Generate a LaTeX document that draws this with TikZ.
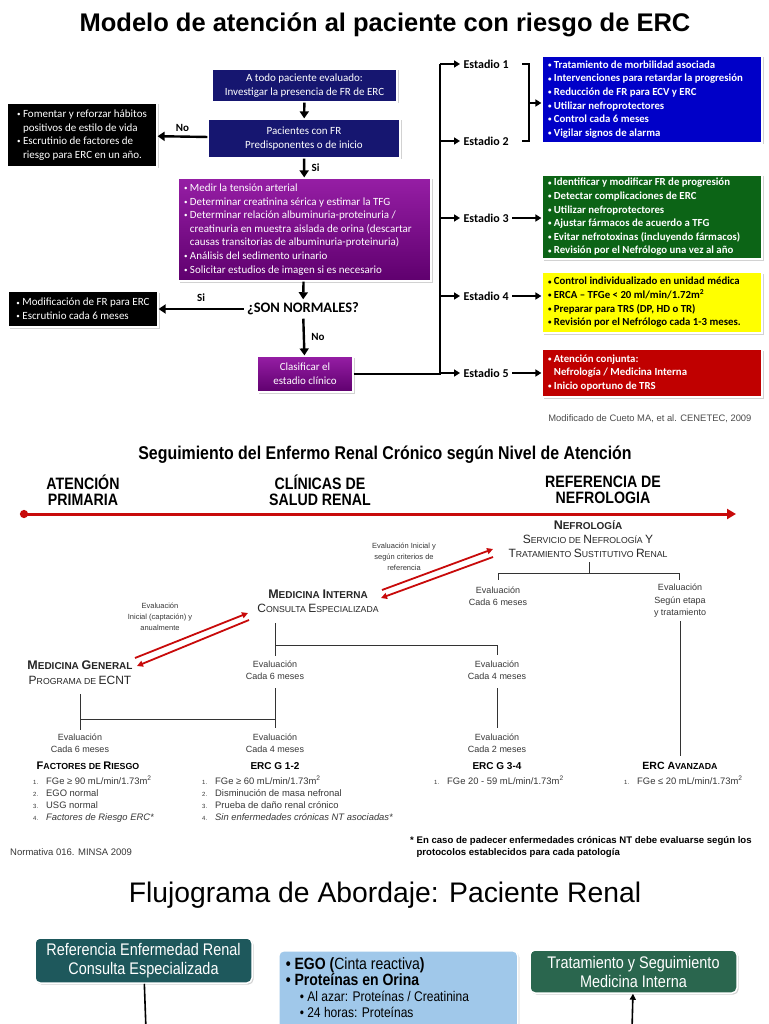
\documentclass[tikz,border=0pt]{standalone}
\usepackage{fontspec}
\setmainfont{Carlito}
\newfontfamily\arialf{Liberation Sans}
\newfontfamily\condf[FakeStretch=0.86]{Liberation Sans}
\usetikzlibrary{arrows.meta,positioning,calc,shadows}
\definecolor{navybox}{RGB}{22,22,112}
\definecolor{purpletop}{RGB}{150,30,165}
\definecolor{purplebot}{RGB}{95,0,110}
\definecolor{bluebox}{RGB}{0,0,200}
\definecolor{greenbox}{RGB}{12,100,22}
\definecolor{yellowbox}{RGB}{255,255,0}
\definecolor{redbox}{RGB}{192,0,0}
\definecolor{redline}{RGB}{200,10,10}
\definecolor{tealbox}{RGB}{30,88,92}
\definecolor{pinebox}{RGB}{42,102,78}
\definecolor{skybox}{RGB}{160,200,234}
\definecolor{txtgray}{RGB}{55,55,55}
\newcommand\bul{\raisebox{.15ex}{\scriptsize\textbullet}\ }
\newcommand\ind{\phantom{\bul}}
\newcommand\capl[2][12]{{\fontsize{#1}{#1}\selectfont #2}}
\newcommand\nm[1]{\makebox[13pt][l]{\fontsize{6}{6}\selectfont #1.}}
\tikzset{
  box/.style={draw=white, line width=1.2pt, inner xsep=6pt, inner ysep=0pt,
    drop shadow={opacity=0.35, shadow xshift=1.5pt, shadow yshift=-1.5pt},
    font=\fontsize{11}{13.6}\selectfont},
  navyflow/.style={box, fill=navybox, text=white, align=center},
  blackflow/.style={box, fill=black, text=white, align=flush left},
  purpleflow/.style={box, top color=purpletop, bottom color=purplebot, text=white},
  stagebox/.style={box, text width=208, align=flush left, font=\bfseries\fontsize{10.8}{13.6}\selectfont},
  stage/.style={font=\bfseries\fontsize{12}{14}\selectfont},
  yesno/.style={font=\bfseries\fontsize{11}{13}\selectfont},
  arrow/.style={-{Triangle[length=7pt,width=9pt]}, line width=2.4pt},
  thinarrow/.style={-{Triangle[length=6pt,width=7pt]}, line width=1.8pt},
  redarrow/.style={-{Triangle[length=6pt,width=6pt]}, line width=1.8pt, redline},
  level/.style={font=\condf\bfseries\fontsize{16.5}{16}\selectfont, align=center},
  caption/.style={font=\arialf\fontsize{9}{12.5}\selectfont, text=txtgray, align=center},
  smallnote/.style={font=\arialf\fontsize{7.5}{11}\selectfont, text=txtgray, align=center},
  itemlist/.style={font=\arialf\fontsize{9.4}{12}\selectfont, text=txtgray, align=flush left, anchor=north west, inner sep=0pt},
  tree/.style={line width=0.8pt, black!80},
  roundbox/.style={draw=white, line width=1.5pt, rounded corners=5pt, text=white,
    drop shadow={opacity=0.35, shadow xshift=1.5pt, shadow yshift=-1.5pt},
    font=\condf\fontsize{16.8}{19}\selectfont, align=center}
}
\begin{document}
\begin{tikzpicture}[x=1pt,y=-1pt]
  \useasboundingbox (0,0) rectangle (768,1024);
  \fill[white] (0,0) rectangle (768,1024);
  \clip (0,0) rectangle (768,1024);

  % --- modelo de atencion ---
  \node[font=\arialf\bfseries\fontsize{25.5}{28}\selectfont] (title) at (385,25) {Modelo de atención al paciente con riesgo de ERC};
  \node[navyflow, minimum width=185, minimum height=33] (ask) at (304.5,85.5) {A todo paciente evaluado:\\Investigar la presencia de FR de ERC};
  \node[navyflow, minimum width=192, minimum height=39] (risk) at (304,138.5) {Pacientes con FR\\Predisponentes o de inicio};
  \node[blackflow, minimum width=150, minimum height=64] (habits) at (82,135) {\bul Fomentar y reforzar hábitos\\ \ind positivos de estilo de vida\\ \bul Escrutinio de factores de\\ \ind riesgo para ERC en un año.};
  \node[purpleflow, text width=241, inner xsep=6pt, minimum height=103, align=flush left] (exams) at (304.5,229.5) {\bul Medir la tensión arterial\\ \bul Determinar creatinina sérica y estimar la TFG\\ \bul Determinar relación albuminuria-proteinuria /\\ \ind creatinuria en muestra aislada de orina (descartar\\ \ind causas transitorias de albuminuria-proteinuria)\\ \bul Análisis del sedimento urinario\\ \bul Solicitar estudios de imagen si es necesario};
  \node[font=\bfseries\fontsize{14.5}{16}\selectfont] (normal) at (303,309) {¿SON NORMALES?};
  \node[blackflow, minimum width=150, minimum height=36] (modif) at (83,309) {\bul Modificación de FR para ERC\\ \bul Escrutinio cada 6 meses};
  \node[purpleflow, minimum width=96, minimum height=36, align=center] (classify) at (305,374) {Clasificar el\\estadio clínico};

  \draw[arrow] (ask) -- (risk);
  \draw[arrow] (risk) -- node[yesno, above] {No} (habits);
  \draw[arrow] (risk) -- node[yesno, right=3pt] {Si} (exams);
  \draw[arrow] (exams) -- (normal);
  \draw[arrow] (normal) -- node[yesno, above=3pt] {Si} (modif);
  \draw[arrow] (normal) -- node[yesno, right=3pt] {No} (classify);

  % estadios
  \foreach \i/\y in {1/64,2/141,3/218,4/296,5/373}{
    \coordinate (sp\i) at (440,\y);
    \node[stage, anchor=west] (st\i) at (460,\y) {Estadio \i};
  }
  \draw[line width=2pt] (classify.east) -| (sp1);
  \foreach \i in {1,...,5}{
    \draw[thinarrow] (sp\i) -- (st\i.west);
  }
  \node[stagebox, fill=bluebox, text=white, minimum height=87] (blue) at (652,99.5) {\bul Tratamiento de morbilidad asociada\\ \bul Intervenciones para retardar la progresión\\ \bul Reducción de FR para ECV y ERC\\ \bul Utilizar nefroprotectores\\ \bul Control cada 6 meses\\ \bul Vigilar signos de alarma};
  \node[stagebox, fill=greenbox, text=white, minimum height=84] (green) at (652,217) {\bul Identificar y modificar FR de progresión\\ \bul Detectar complicaciones de ERC\\ \bul Utilizar nefroprotectores\\ \bul Ajustar fármacos de acuerdo a TFG\\ \bul Evitar nefrotoxinas (incluyendo fármacos)\\ \bul Revisión por el Nefrólogo una vez al año};
  \node[stagebox, fill=yellowbox, text=black, minimum height=61] (yellow) at (652,302.5) {\bul Control individualizado en unidad médica\\ \bul ERCA -- TFGe < 20 ml/min/1.72m\textsuperscript{2}\\ \bul Preparar para TRS (DP, HD o TR)\\ \bul Revisión por el Nefrólogo cada 1-3 meses.};
  \node[stagebox, fill=redbox, text=white, minimum height=48] (red) at (652,373) {\bul Atención conjunta:\\ \ind Nefrología / Medicina Interna\\ \bul Inicio oportuno de TRS};
  \coordinate (br1) at (522,64);
  \coordinate (br2) at (522,141);
  \coordinate (brm) at (529,103);
  \draw[line width=2pt] (br1) -| (brm) |- (br2);
  \draw[thinarrow] (brm) -- (brm -| blue.west);
  \draw[thinarrow] (st3.east) -- (st3.east -| green.west);
  \draw[thinarrow] (st4.east) -- (st4.east -| yellow.west);
  \draw[thinarrow] (st5.east) -- (st5.east -| red.west);
  \node[caption, font=\arialf\fontsize{9.4}{12}\selectfont, text=black!70, anchor=east] (cueto) at (755,419) {Modificado de Cueto MA, et al. CENETEC, 2009};

  % --- seguimiento por nivel ---
  \node[font=\condf\bfseries\fontsize{18.5}{20}\selectfont] (title2) at (385,455) {Seguimiento del Enfermo Renal Crónico según Nivel de Atención};
  \node[level] (primary) at (83,490) {ATENCIÓN\\PRIMARIA};
  \node[level] (clinic) at (320,490) {CLÍNICAS DE\\SALUD RENAL};
  \node[level] (refer) at (603,490) {REFERENCIA DE\\NEFROLOGIA};
  \coordinate (tl0) at (20,514);
  \coordinate (tl1) at (736,514);
  \draw[{Circle[length=8pt]}-{Triangle[length=9pt,width=10pt]}, line width=3pt, redline] (tl0) -- (tl1);

  \node[font=\arialf\fontsize{10}{14}\selectfont, text=black!85, align=center] (nefro) at (588,539) {\textbf{\capl[12.5]{N}EFROLOGÍA}\\ \fontsize{8.7}{14}\selectfont\capl{S}ERVICIO DE \capl{N}EFROLOGÍA \capl{Y}\\ \fontsize{8.7}{14}\selectfont\capl{T}RATAMIENTO \capl{S}USTITUTIVO \capl{R}ENAL};
  \node[font=\arialf\fontsize{10}{14}\selectfont, text=black!85, align=center] (intern) at (318,601) {\textbf{\capl[12.5]{M}EDICINA \capl[12.5]{I}NTERNA}\\ \fontsize{8.7}{14}\selectfont\capl{C}ONSULTA \capl{E}SPECIALIZADA};
  \node[font=\arialf\fontsize{10}{15}\selectfont, text=black!85, align=center] (general) at (80,673) {\textbf{\capl[12.5]{M}EDICINA \capl[12.5]{G}ENERAL}\\ \fontsize{8.7}{15}\selectfont\capl{P}ROGRAMA DE \capl{ECNT}};

  \coordinate (a1) at (382,590); \coordinate (a2) at (493,549);
  \coordinate (a3) at (493,557); \coordinate (a4) at (381,598);
  \draw[redarrow] (a1) -- (a2);
  \draw[redarrow] (a3) -- (a4);
  \node[smallnote] (critnote) at (404,557) {Evaluación Inicial y\\según criterios de\\referencia};
  \coordinate (b1) at (135,658); \coordinate (b2) at (248,613);
  \coordinate (b3) at (249,620); \coordinate (b4) at (137,666);
  \draw[redarrow] (b1) -- (b2);
  \draw[redarrow] (b3) -- (b4);
  \node[smallnote] (captnote) at (160,617) {Evaluación\\Inicial (captación) y\\anualmente};

  % arbol nefrologia
  \coordinate (n0) at (589,562); \coordinate (n1) at (589,573);
  \coordinate (nl) at (498,573); \coordinate (nr) at (679,573);
  \coordinate (nl2) at (498,580); \coordinate (nr2) at (679,580);
  \draw[tree] (n0) -- (n1) (nl) -- (nr) (nl) -- (nl2) (nr) -- (nr2);
  \node[caption] (ev6n) at (498,596) {Evaluación\\Cada 6 meses};
  \node[caption] (evstage) at (680,601) {Evaluación\\Según etapa\\y tratamiento};
  \coordinate (adv) at (680,756);
  \draw[tree] (evstage.south) -- (adv);

  % arbol medicina interna
  \coordinate (m0) at (275,623); \coordinate (m1) at (275,656);
  \coordinate (mh) at (275,645); \coordinate (mr) at (497,645); \coordinate (mr2) at (497,655);
  \draw[tree] (m0) -- (m1) (mh) -- (mr) -- (mr2);
  \node[caption] (ev6m) at (275,670) {Evaluación\\Cada 6 meses};
  \node[caption] (ev4m) at (497,670) {Evaluación\\Cada 4 meses};

  % arbol medicina general
  \coordinate (g0) at (80,694); \coordinate (g1) at (80,730);
  \coordinate (gh) at (80,719); \coordinate (gr) at (275,719);
  \draw[tree] (g0) -- (g1) (gh) -- (gr);
  \coordinate (k1) at (275,688); \coordinate (k2) at (275,728);
  \coordinate (k3) at (497,688); \coordinate (k4) at (497,728);
  \draw[tree] (k1) -- (k2) (k3) -- (k4);

  \node[caption] (col1) at (80,743) {Evaluación\\Cada 6 meses};
  \node[caption] (col2) at (275,743) {Evaluación\\Cada 4 meses};
  \node[caption] (col3) at (497,743) {Evaluación\\Cada 2 meses};
  \node[font=\arialf\bfseries\fontsize{8.8}{11}\selectfont] (h1) at (88,766) {\capl[11]{F}ACTORES DE \capl[11]{R}IESGO};
  \node[font=\arialf\bfseries\fontsize{10}{11}\selectfont] (h2) at (275,766) {ERC G 1-2};
  \node[font=\arialf\bfseries\fontsize{10}{11}\selectfont] (h3) at (497,766) {ERC G 3-4};
  \node[font=\arialf\bfseries\fontsize{8.8}{11}\selectfont] (h4) at (680,766) {\capl[10.5]{ERC A}VANZADA};
  \node[itemlist] (list1) at (33,776) {\nm{1}FGe ≥ 90 mL/min/1.73m\textsuperscript{2}\\ \nm{2}EGO normal\\ \nm{3}USG normal\\ \nm{4}\textit{Factores de Riesgo ERC*}};
  \node[itemlist] (list2) at (202,776) {\nm{1}FGe ≥ 60 mL/min/1.73m\textsuperscript{2}\\ \nm{2}Disminución de masa nefronal\\ \nm{3}Prueba de daño renal crónico\\ \nm{4}\textit{Sin enfermedades crónicas NT asociadas*}};
  \node[itemlist] (list3) at (434,776) {\nm{1}FGe 20 - 59 mL/min/1.73m\textsuperscript{2}};
  \node[itemlist] (list4) at (624,776) {\nm{1}FGe ≤ 20 mL/min/1.73m\textsuperscript{2}};
  \node[font=\arialf\bfseries\fontsize{9.6}{12.5}\selectfont, align=flush left, anchor=north west, inner sep=0pt] (foot) at (410,836) {* En caso de padecer enfermedades crónicas NT debe evaluarse según los\\ \phantom{* }protocolos establecidos para cada patología};
  \node[font=\arialf\fontsize{9.5}{11}\selectfont, text=txtgray, anchor=west, inner sep=0pt] (minsa) at (10,852) {Normativa 016. MINSA 2009};

  % --- flujograma ---
  \node[font=\arialf\fontsize{28.3}{31}\selectfont] (title3) at (385,895) {Flujograma de Abordaje: Paciente Renal};
  \node[roundbox, fill=tealbox, minimum width=217, minimum height=45] (refbox) at (143.5,960.5) {Referencia Enfermedad Renal\\Consulta Especializada};
  \node[roundbox, fill=skybox, text=black, minimum width=239, anchor=north west, align=flush left, text width=225, inner xsep=7pt, inner ysep=7pt, font=\condf\fontsize{16.3}{16}\selectfont] (ego) at (278,950) {\textbf{•} \textbf{EGO (}Cinta reactiva\textbf{)}\\ \textbf{• Proteínas en Orina}\\ {\fontsize{14}{16}\selectfont\quad • Al azar: Proteínas / Creatinina}\\ {\fontsize{14}{16}\selectfont\quad • 24 horas: Proteínas}\\ \phantom{x}\\ \phantom{x}};
  \node[roundbox, fill=pinebox, minimum width=207, minimum height=43] (treat) at (633.5,971.5) {Tratamiento y Seguimiento\\Medicina Interna};
  \coordinate (down) at (146,1030);
  \coordinate (up) at (632,1030);
  \draw[line width=1.6pt] (refbox) -- (down);
  \draw[-{Triangle[length=6pt,width=6pt]}, line width=1.6pt] (up) -- (treat);
\end{tikzpicture}
\end{document}
